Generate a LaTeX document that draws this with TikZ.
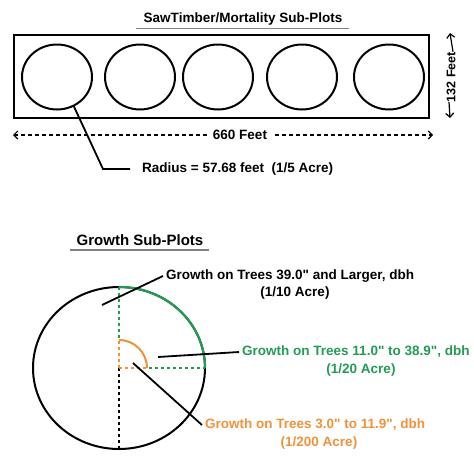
\documentclass[tikz,border=0pt]{standalone}
\usepackage{fontspec}
\setmainfont{Liberation Sans}[Ligatures=TeXOff]
\usetikzlibrary{arrows.meta,shapes.geometric}
\definecolor{growgreen}{RGB}{35,155,85}
\definecolor{groworange}{RGB}{240,145,60}

\begin{document}
\begin{tikzpicture}[x=1pt,y=1pt]
	\tikzstyle{every node}+=[inner sep=0pt, font=\bfseries\fontsize{13.5}{15}\selectfont]
	\tikzstyle{subplot}=[draw=black, ellipse, line width=2pt, outer sep=0pt, minimum width=70pt, minimum height=65pt]
	\tikzstyle{leader}=[draw=black, line width=1.8pt]
	\tikzstyle{dimline}=[line width=1.2pt, -{Straight Barb[length=4pt,width=8pt]}]
	\tikzstyle{titleline}=[draw=gray, line width=1.6pt]
	\useasboundingbox (0,0) rectangle (474,-474);
	\node (sawtitle) at (243,-19) {SawTimber/Mortality Sub-Plots};
	\draw [titleline] ([xshift=-8pt,yshift=-3pt]sawtitle.south west) -- ([xshift=7pt,yshift=-3pt]sawtitle.south east);
	\node [draw=black, line width=2pt, minimum width=415pt, minimum height=83pt] (strip) at (221.5,-76.5) {};
	\foreach \x [count=\i] in {57,140,218,302,389}
		\node [subplot] (plot\i) at (\x,-77) {};
	\node (width) at (240,-135) {660 Feet};
	\coordinate (widthL) at (13,-135);
	\coordinate (widthR) at (433,-135);
	\draw [dimline, dash pattern=on 4pt off 3pt] ([xshift=-6pt]width.west) -- (widthL);
	\draw [dimline, dash pattern=on 4pt off 3pt] ([xshift=8pt]width.east) -- (widthR);
	\node [rotate=90, font=\bfseries\fontsize{12.5}{14}\selectfont] (depth) at (451,-77) {132 Feet};
	\coordinate (depthT) at (450,-33);
	\coordinate (depthB) at (450,-118);
	\draw [dimline] ([xshift=2pt]depth.east) -- (depthT);
	\draw [dimline] ([xshift=-2pt]depth.west) -- (depthB);
	\node [anchor=west] (radius) at (142,-169) {Radius = 57.68 feet\ \ (1/5 Acre)};
	\coordinate (rbend) at (103,-169);
	\draw [leader] (plot1.-60) -- (rbend) -- ([xshift=-12pt]radius.west);
	\node (growtitle) at (140,-240) {\fontsize{15}{17}\selectfont Growth Sub-Plots};
	\draw [titleline] ([xshift=-6pt,yshift=-4pt]growtitle.south west) -- ([xshift=5pt,yshift=-4pt]growtitle.south east);
	\node [subplot, minimum width=172pt, minimum height=162pt] (bigplot) at (119,-368) {};
	\draw [growgreen, line width=1.6pt, dashed] (bigplot.center) -- (bigplot.north);
	\draw [growgreen, line width=1.6pt, dashed] (bigplot.center) -- (bigplot.east);
	\draw [growgreen, line width=2.2pt] (bigplot.north) arc [start angle=90, end angle=0, x radius=86pt, y radius=81pt];
	\draw [black, line width=1.6pt, dashed] (bigplot.center) -- (bigplot.south);
	\draw [groworange, line width=1.6pt, dashed] (bigplot.center) -- ++(0,28);
	\draw [groworange, line width=1.6pt, dashed] (bigplot.center) -- ++(28,0);
	\draw [groworange, line width=2pt] ([xshift=28pt]bigplot.center) arc [start angle=0, end angle=90, radius=28pt];
	\node [anchor=west] (large1) at (166,-276) {Growth on Trees 39.0" and Larger, dbh};
	\node (large2) at (295,-293) {(1/10 Acre)};
	\coordinate (largein) at (102,-305);
	\draw [leader] (largein) -- ([xshift=-3pt]large1.west);
	\node [anchor=west, text=growgreen] (mid1) at (242,-352) {Growth on Trees 11.0" to 38.9", dbh};
	\node [text=growgreen] (mid2) at (361,-370) {(1/20 Acre)};
	\coordinate (midin) at (158,-357);
	\draw [leader] (midin) -- ([xshift=-3pt]mid1.west);
	\node [anchor=west, text=groworange] (small1) at (205,-425) {Growth on Trees 3.0" to 11.9", dbh};
	\node [text=groworange] (small2) at (319,-443) {(1/200 Acre)};
	\coordinate (smallin) at (133,-363);
	\draw [leader] (smallin) -- ([xshift=-3pt]small1.west);
\end{tikzpicture}
\end{document}
